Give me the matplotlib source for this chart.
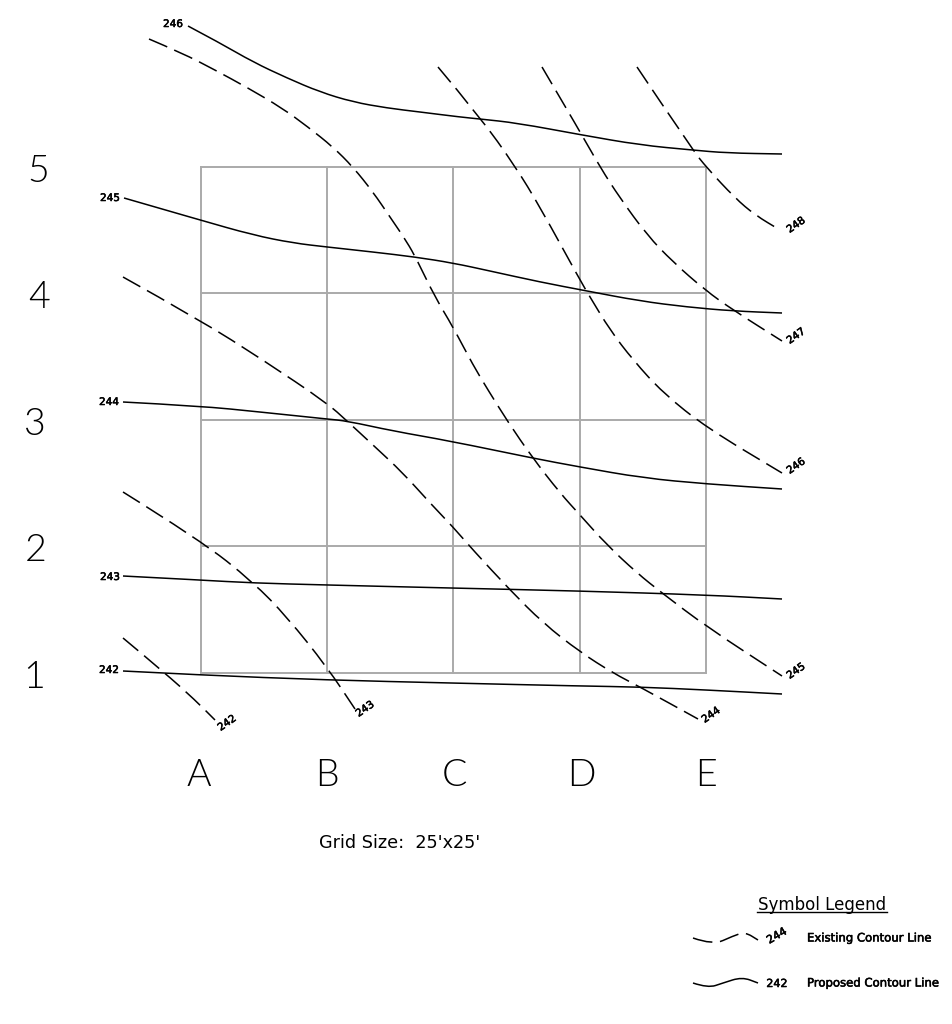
import matplotlib
matplotlib.use('Agg')
import matplotlib.pyplot as plt
import matplotlib.patheffects as pe
from matplotlib.path import Path
from matplotlib.patches import PathPatch

# contours, sheet coordinates
grid_x = [201, 327, 453, 580, 706]
grid_y = [167, 293, 420, 546, 673]
col_names = ['A', 'B', 'C', 'D', 'E']
row_names = ['5', '4', '3', '2', '1']
col_label_x = [199, 327, 455, 581, 706]
row_label_x = [38, 39, 35, 36, 34]

prop_246 = [(188, 26), (220, 43), (253, 62), (287, 78), (320, 92), (353, 102), (387, 108), (420, 112), (460, 117), (480, 119), (517, 123), (582, 135), (640, 145), (692, 150), (727, 153), (782, 154)]
prop_245 = [(124, 198), (200, 220), (253, 235), (293, 243), (327, 247), (373, 252), (415, 257), (453, 263), (490, 271), (540, 282), (587, 291), (640, 301), (687, 307), (733, 311), (782, 313)]
prop_244 = [(123, 402), (200, 406), (260, 412), (327, 419), (347, 421), (393, 431), (450, 441), (532, 458), (580, 467), (643, 478), (707, 484), (782, 489)]
prop_243 = [(123, 576), (200, 580), (253, 583), (327, 585), (450, 588), (580, 591), (707, 595), (782, 599)]
prop_242 = [(123, 671), (200, 675), (327, 680), (450, 683), (580, 686), (640, 687), (707, 690), (782, 694)]

exist_248 = [(637, 67), (692, 149), (707, 168), (735, 198), (755, 215), (780, 230)]
exist_247 = [(542, 67), (582, 135), (600, 167), (620, 198), (647, 235), (673, 262), (705, 290), (733, 310), (782, 341)]
exist_246 = [(438, 67), (480, 117), (515, 166), (540, 207), (580, 280), (590, 297), (610, 330), (633, 360), (663, 393), (707, 428), (782, 473)]
exist_245 = [(149, 39), (182, 53), (215, 70), (248, 88), (282, 108), (308, 127), (333, 147), (353, 167), (373, 192), (390, 217), (407, 242), (417, 260), (435, 297), (453, 327), (473, 365), (488, 390), (508, 422), (532, 457), (560, 493), (580, 515), (607, 545), (637, 573), (662, 593), (707, 627), (782, 676)]
exist_244 = [(123, 277), (200, 320), (263, 360), (327, 403), (347, 421), (373, 445), (403, 473), (430, 503), (453, 527), (473, 550), (510, 590), (543, 623), (580, 652), (613, 673), (640, 687), (698, 719)]
exist_243 = [(123, 492), (200, 540), (253, 582), (287, 617), (327, 667), (355, 709)]
exist_242 = [(123, 638), (165, 673), (195, 700), (215, 720)]

legend_dash = [(693, 938), (713, 945), (733, 936), (745, 932), (758, 940)]
legend_solid = [(693, 983), (708, 988), (723, 983), (742, 977), (758, 983)]

prop_labels = [('246', 173, 24), ('245', 110, 198), ('244', 109, 402), ('243', 110, 577), ('242', 109, 670)]
exist_labels = [('248', 796, 225), ('247', 796, 336), ('246', 796, 466), ('245', 796, 671), ('244', 711, 715), ('243', 365, 709), ('242', 227, 723)]


def draw_curve(ax, pts, dashed=False):
    # quadratic segments through the midpoints keep the contours smooth
    verts = [pts[0]]
    codes = [Path.MOVETO]
    for i in range(1, len(pts) - 1):
        mid = ((pts[i][0] + pts[i + 1][0]) / 2, (pts[i][1] + pts[i + 1][1]) / 2)
        verts += [pts[i], mid]
        codes += [Path.CURVE3, Path.CURVE3]
    verts.append(pts[-1])
    codes.append(Path.LINETO)
    ls = (0, (13, 5)) if dashed else '-'
    ax.add_patch(PathPatch(Path(verts, codes), fill=False, ec='black', lw=1.1, ls=ls, capstyle='butt', zorder=3))


plt.rcParams['font.family'] = ['DejaVu Sans']
fig = plt.figure(figsize=(9.53, 10.24), dpi=100)
ax = fig.add_axes([0, 0, 1, 1])
ax.set_xlim(0, 953)
ax.set_ylim(1024, 0)
ax.axis('off')

for x in grid_x:
    ax.plot([x, x], [grid_y[0], grid_y[-1]], color='#aaaaaa', lw=1.4, zorder=1)
for y in grid_y:
    ax.plot([grid_x[0], grid_x[-1]], [y, y], color='#aaaaaa', lw=1.4, zorder=1)

for c in [prop_246, prop_245, prop_244, prop_243, prop_242]:
    draw_curve(ax, c)
for c in [exist_248, exist_247, exist_246, exist_245, exist_244, exist_243, exist_242]:
    draw_curve(ax, c, dashed=True)

for name, x in zip(col_names, col_label_x):
    ax.text(x, 776, name, fontsize=27, family='Lato', fontweight=300, ha='center', va='center')
for name, x, y in zip(row_names, row_label_x, grid_y):
    ax.text(x, y + 5, name, fontsize=27, family='Lato', fontweight=300, ha='center', va='center')

# small labels are a touch heavier in the scan
heavy = [pe.withStroke(linewidth=0.4, foreground='black')]
for txt, x, y in prop_labels:
    ax.text(x, y, txt, fontsize=7.5, ha='center', va='center', path_effects=heavy)
for txt, x, y in exist_labels:
    ax.text(x, y, txt, fontsize=7.5, rotation=35, ha='center', va='center', rotation_mode='anchor', path_effects=heavy)

ax.text(400, 843, "Grid Size:  25'x25'", fontsize=12.7, ha='center', va='center')

# legend block
ax.text(822, 905, 'Symbol Legend', fontsize=12, ha='center', va='center')
ax.plot([757, 887], [912, 912], color='black', lw=1.0)
draw_curve(ax, legend_dash, dashed=True)
draw_curve(ax, legend_solid)
ax.text(777, 936, '244', fontsize=8, rotation=30, ha='center', va='center', rotation_mode='anchor', path_effects=heavy)
ax.text(777, 984, '242', fontsize=8, ha='center', va='center', path_effects=heavy)
ax.text(807, 938, 'Existing Contour Line', fontsize=8.4, ha='left', va='center', path_effects=heavy)
ax.text(807, 983, 'Proposed Contour Line', fontsize=8.4, ha='left', va='center', path_effects=heavy)

fig.savefig('out.png', dpi=100)
